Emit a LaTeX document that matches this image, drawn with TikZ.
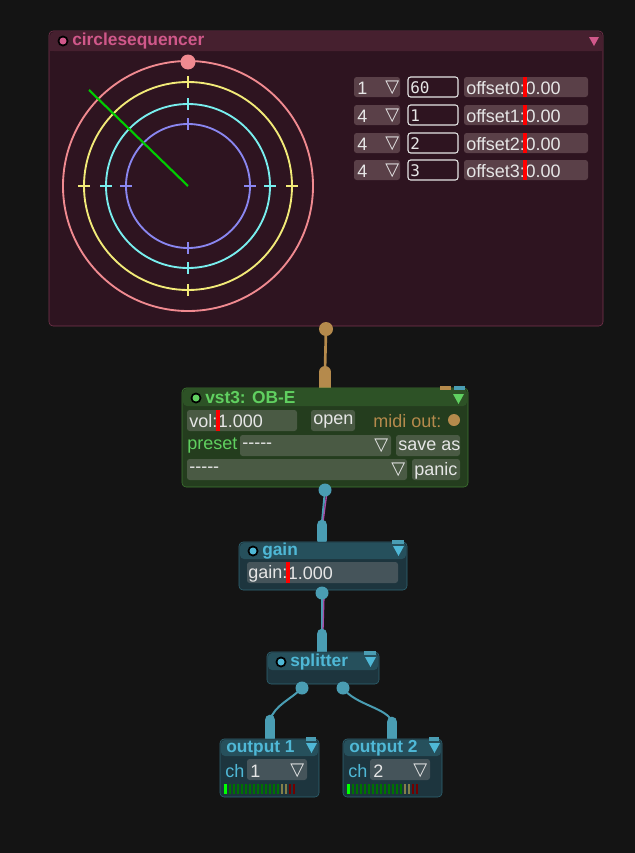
\documentclass[tikz,border=0pt]{standalone}
\usepackage{fontspec}
\setmainfont{Liberation Sans}
\newfontfamily\monof{DejaVu Sans Mono}
\newfontfamily\dvf{DejaVu Sans}
\newcommand{\tridown}{{\dvf ▽}}
\newcommand{\dashes}{{-}{-}{-}{-}{-}}
\definecolor{bg}{HTML}{141414}
\definecolor{cspanel}{HTML}{2E1420}
\definecolor{cshead}{HTML}{46202F}
\definecolor{csbord}{HTML}{7A3550}
\definecolor{cstext}{HTML}{D0588A}
\definecolor{csbox}{HTML}{5A4048}
\definecolor{vpanel}{HTML}{243D1E}
\definecolor{vhead}{HTML}{2D5226}
\definecolor{vbord}{HTML}{3F7A32}
\definecolor{vtext}{HTML}{60D060}
\definecolor{vbox}{HTML}{4A5A44}
\definecolor{tpanel}{HTML}{1D353E}
\definecolor{thead}{HTML}{26505C}
\definecolor{tbord}{HTML}{2F6675}
\definecolor{ttext}{HTML}{4FB8D6}
\definecolor{tbox}{HTML}{45545A}
\definecolor{wire}{HTML}{4A9DB3}
\definecolor{brown}{HTML}{B58A4C}
\definecolor{pinkc}{HTML}{F08A90}
\definecolor{yelc}{HTML}{F2EA78}
\definecolor{cyac}{HTML}{78EEEE}
\definecolor{purc}{HTML}{8A86F0}
\definecolor{txt}{HTML}{E6E6E6}
\tikzset{
  px/.style={x=0.75pt,y=-0.75pt},
  box/.style={rounded corners=2pt},
  lbl/.style={inner sep=0pt,anchor=west,text=txt,font=\fontsize{13.5}{13.5}\selectfont},
  ttl/.style={inner sep=0pt,anchor=west,font=\bfseries\fontsize{13}{13}\selectfont},
  cursor/.style={fill=red,minimum width=3pt,minimum height=15.5pt,inner sep=0pt,anchor=center},
}
\begin{document}
\begin{tikzpicture}[px]
\fill[bg] (0,0) rectangle (635,853);
\useasboundingbox (0,0) rectangle (635,853);
% circlesequencer panel
\draw[csbord,fill=cspanel,rounded corners=3pt] (49,31) rectangle (603,326);
\fill[cshead,rounded corners=3pt] (50,32) rectangle (602,51);
\fill[cshead] (50,45) rectangle (602,51);
\fill[black] (63,41) circle (5.5); \fill[cstext] (63,41) circle (3.5);
\node[ttl,text=cstext] (cst) at (72,41) {circlesequencer};
\fill[cstext] (589,37) -- (599,37) -- (594,46) -- cycle;
% circles
\coordinate (cc) at (188,186);
\draw[pinkc,line width=1.4pt] (cc) circle (125);
\draw[yelc,line width=1.4pt] (cc) circle (104);
\draw[cyac,line width=1.4pt] (cc) circle (82);
\draw[purc,line width=1.4pt] (cc) circle (62);
\foreach \r/\c in {104/yelc,82/cyac,62/purc}{
  \draw[\c,line width=1.2pt] (188,186-\r-6) -- (188,186-\r+6);
  \draw[\c,line width=1.2pt] (188,186+\r-6) -- (188,186+\r+6);
  \draw[\c,line width=1.2pt] (188-\r-6,186) -- (188-\r+6,186);
  \draw[\c,line width=1.2pt] (188+\r-6,186) -- (188+\r+6,186);
}
\fill[pinkc] (188,62) circle (7.5);
\draw[green!80!black,line width=1.6pt] (cc) -- (89,90);
% rows
\foreach \y/\a/\b/\i in {87/1/60/0,115/4/1/1,143/4/2/2,170/4/3/3}{
  \fill[csbox,box] (354,\y-10) rectangle (400,\y+10);
  \node[lbl] at (357,\y+1) {\a};
  \node[lbl] at (385,\y+1) {\tridown};
  \draw[txt,box,line width=0.8pt] (408,\y-10) rectangle (458,\y+10);
  \node[lbl,font=\monof\fontsize{12}{12}\selectfont] at (410,\y+1) {\b};
  \fill[csbox,box] (464,\y-10) rectangle (588,\y+10);
  \node[lbl] (offa\i) at (466,\y+1) {offset\i:};
  \node[lbl] at (offa\i.east) {0.00};
  \node[cursor] at (offa\i.east |- 0,\y) {};
}
% brown connector
\fill[brown] (326,329) circle (7);
\draw[brown,line width=2pt] (326,329) -- (325,370);
\draw[brown,line width=9pt,line cap=round] (325,372) -- (325,388);
% vst3 node
\draw[vbord,fill=vpanel,rounded corners=3pt] (182,388) rectangle (468,487);
\fill[vhead,rounded corners=3pt] (183,389) rectangle (467,406);
\fill[brown] (440,386) rectangle (451,390);
\fill[wire] (454,386) rectangle (465,390);
\fill[black] (196,398) circle (5.5); \fill[vtext] (196,398) circle (3.5);
\node[ttl,text=vtext] (vt) at (205,398) {vst3: OB-E};
\fill[vtext] (453,394) -- (464,394) -- (458.5,404) -- cycle;
\fill[vbox,box] (187,410) rectangle (297,431);
\node[lbl] (vola) at (189,421.5) {vol:};
\node[lbl] at (vola.east) {1.000};
\node[cursor] at (vola.east |- 0,420.5) {};
\fill[vbox,box] (311,410) rectangle (355,431);
\node[lbl] at (313,421.5) {open};
\node[lbl,text=brown] at (373,421) {midi out:};
\fill[brown] (454,420) circle (6);
\node[lbl,text=vtext] at (187,446) {preset};
\fill[vbox,box] (240,435) rectangle (391,456);
\node[lbl] at (242,446) {\dashes};
\node[lbl] at (374,446) {\tridown};
\fill[vbox,box] (396,435) rectangle (460,456);
\node[lbl] at (398,446) {save as};
\fill[vbox,box] (187,459) rectangle (407,480);
\node[lbl] at (189,470) {\dashes};
\node[lbl] at (391,470) {\tridown};
\fill[vbox,box] (412,459) rectangle (460,480);
\node[lbl] at (414,470.5) {panic};
% wire vst->gain
\draw[wire,line width=1.5pt] (325,490) -- (322,522);
\draw[violet!70,line width=1pt] (327,492) -- (323,522);
\fill[wire] (325,490) circle (6.5);
\draw[wire,line width=8pt,line cap=round] (322,525) -- (322,540);
% gain node
\draw[tbord,fill=tpanel,rounded corners=3pt] (239,542) rectangle (407,590);
\fill[thead,rounded corners=3pt] (240,543) rectangle (406,559);
\fill[wire] (392,540) rectangle (404,544);
\fill[black] (253,551) circle (5.5); \fill[ttext] (253,551) circle (3.5);
\node[ttl,text=ttext] (gt) at (262,551) {gain};
\fill[ttext] (393,546) -- (404,546) -- (398.5,556) -- cycle;
\fill[tbox,box] (247,562) rectangle (398,583);
\node[lbl] (gaina) at (248,573.5) {gain:};
\node[lbl] at (gaina.east) {1.000};
\node[cursor] at (gaina.east |- 0,572.5) {};
% wire gain->splitter
\draw[wire,line width=1.5pt] (322,593) -- (322,630);
\draw[violet!70,line width=1pt] (324,595) -- (323,630);
\fill[wire] (322,593) circle (6.5);
\draw[wire,line width=8pt,line cap=round] (322,634) -- (322,652);
% splitter
\draw[tbord,fill=tpanel,rounded corners=3pt] (267,652) rectangle (379,684);
\fill[thead,rounded corners=3pt] (268,653) rectangle (378,670);
\fill[wire] (364,651) rectangle (376,655);
\fill[black] (281,662) circle (5.5); \fill[ttext] (281,662) circle (3.5);
\node[ttl,text=ttext] (st) at (290,662) {splitter};
\fill[ttext] (365,657) -- (376,657) -- (370.5,667) -- cycle;
\draw[wire,line width=1.5pt] (302,688) .. controls (290,700) and (275,705) .. (270,720);
\draw[wire,line width=1.5pt] (343,688) .. controls (355,705) and (388,708) .. (392,722);
\fill[wire] (302,688) circle (6.5);
\fill[wire] (343,688) circle (6.5);
\draw[wire,line width=8pt,line cap=round] (270,720) -- (270,738);
\draw[wire,line width=8pt,line cap=round] (392,722) -- (392,738);
% outputs
\foreach \x/\n in {220/1,343/2}{
  \draw[tbord,fill=tpanel,rounded corners=3pt] (\x,739) rectangle (\x+99,797);
  \fill[thead,rounded corners=3pt] (\x+1,740) rectangle (\x+98,756);
  \fill[wire] (\x+86,737) rectangle (\x+96,741);
  \node[ttl,text=ttext] at (\x+6,748) {output \n};
  \fill[ttext] (\x+86,743) -- (\x+97,743) -- (\x+91.5,753) -- cycle;
  \node[lbl,text=ttext] at (\x+5,771) {ch};
  \fill[tbox,box] (\x+27,759) rectangle (\x+87,780);
  \node[lbl] at (\x+30,771) {\n};
  \node[lbl] at (\x+70,771) {\tridown};
  \fill[green] (\x+4,784) rectangle (\x+7,794);
  \foreach \k in {1,...,17}{
    \pgfmathsetmacro{\xx}{\x+5+\k*4}
    \ifnum\k<14 \fill[green!45!black] (\xx,784) rectangle (\xx+2,794);
    \else\ifnum\k<16 \fill[yellow!45!black] (\xx,784) rectangle (\xx+2,794);
    \else \fill[red!45!black] (\xx,784) rectangle (\xx+2,794);\fi\fi
  }
}
\end{tikzpicture}
\end{document}
